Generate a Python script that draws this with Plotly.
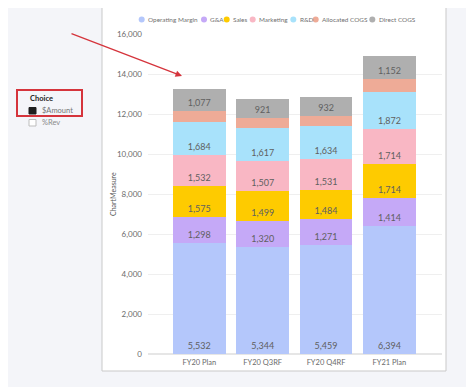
import plotly.graph_objects as go

# ---------------- data ----------------
categories = ["FY20 Plan", "FY20 Q3RF", "FY20 Q4RF", "FY21 Plan"]
operating_margin = [5532, 5344, 5459, 6394]
g_and_a = [1298, 1320, 1271, 1414]
sales = [1575, 1499, 1484, 1714]
marketing = [1532, 1507, 1531, 1714]
r_and_d = [1684, 1617, 1634, 1872]
allocated_cogs = [552, 527, 539, 620]
direct_cogs = [1077, 921, 932, 1152]

series_names = ["Operating Margin", "G&A", "Sales", "Marketing", "R&D",
                "Allocated COGS", "Direct COGS"]
series_values = [operating_margin, g_and_a, sales, marketing, r_and_d,
                 allocated_cogs, direct_cogs]
series_colors = ["#b4c7fb", "#c5a9f7", "#fecb00", "#f9b7c4", "#a8e2fb",
                 "#eeab97", "#afafaf"]
show_labels = [True, True, True, True, True, False, True]

y_ticks = [0, 2000, 4000, 6000, 8000, 10000, 12000, 14000, 16000]

# ---------------- geometry helpers (reference pixel -> paper) ----------------
OFF = 8  # page body margin
W, H = 474 - OFF, 387 - OFF
PL, PR, PT, PB = 148, 442, 34, 354  # plot area in reference pixels


def fx(px):
    return (px - PL) / (PR - PL)


def fy(py):
    return (PB - py) / (PB - PT)


FONT = "Segoe UI, Lato, sans-serif"
TXT = "#6b6b6b"

fig = go.Figure()
for name, vals, col, lab in zip(series_names, series_values, series_colors, show_labels):
    fig.add_trace(go.Bar(
        name=name, x=categories, y=vals, marker=dict(color=col, line=dict(width=0)),
        texttemplate="%{y:,.0f}" if lab else "",
        textposition="inside", insidetextanchor="start", textangle=0,
        textfont=dict(size=9, color="#606060", family=FONT),
        showlegend=False,
    ))

shapes = []
annotations = []

# outer background and card
shapes.append(dict(type="rect", xref="paper", yref="paper", layer="below",
                   x0=fx(0), x1=fx(472), y0=fy(0), y1=fy(390),
                   fillcolor="#f4f5f9", line=dict(width=0)))
shapes.append(dict(type="rect", xref="paper", yref="paper", layer="below",
                   x0=fx(102), x1=fx(446), y0=fy(7), y1=fy(371),
                   fillcolor="#ffffff", line=dict(color="#c9c9c9", width=1)))

# custom legend (circle markers)
legend_x = [141.7, 204, 226.7, 252.7, 293.3, 315.7, 372.3]
for name, col, lx in zip(series_names, series_colors, legend_x):
    shapes.append(dict(type="circle", xref="paper", yref="paper",
                       xsizemode="pixel", ysizemode="pixel",
                       xanchor=fx(lx), yanchor=fy(19.5),
                       x0=-3, x1=3, y0=-3, y1=3,
                       fillcolor=col, line=dict(width=0)))
    annotations.append(dict(text=name, xref="paper", yref="paper",
                            x=fx(lx + 4.2), y=fy(19.5), xanchor="left", yanchor="middle",
                            showarrow=False, font=dict(size=6.4, color="#707070", family=FONT)))

# y-axis title
annotations.append(dict(text="ChartMeasure", xref="paper", yref="paper",
                        x=fx(113), y=fy(194), textangle=-90, showarrow=False,
                        xanchor="center", yanchor="middle",
                        font=dict(size=7, color="#555555", family=FONT)))

# slicer "Choice"
annotations.append(dict(text="<b>Choice</b>", xref="paper", yref="paper",
                        x=fx(28), y=fy(98.5), xanchor="left", yanchor="middle",
                        showarrow=False, font=dict(size=7.5, color="#252423", family=FONT)))
shapes.append(dict(type="rect", xref="paper", yref="paper",
                   x0=fx(29), x1=fx(36), y0=fy(107.5), y1=fy(114),
                   fillcolor="#1f1f1f", line=dict(color="#1f1f1f", width=1)))
annotations.append(dict(text="$Amount", xref="paper", yref="paper",
                        x=fx(40), y=fy(110.8), xanchor="left", yanchor="middle",
                        showarrow=False, font=dict(size=7.5, color="#777777", family=FONT)))
shapes.append(dict(type="rect", xref="paper", yref="paper",
                   x0=fx(29), x1=fx(36), y0=fy(119.5), y1=fy(126),
                   fillcolor="#ffffff", line=dict(color="#bdbdbd", width=1)))
annotations.append(dict(text="%Rev", xref="paper", yref="paper",
                        x=fx(40), y=fy(122.8), xanchor="left", yanchor="middle",
                        showarrow=False, font=dict(size=7.5, color="#8a8a8a", family=FONT)))
# red highlight box
shapes.append(dict(type="rect", xref="paper", yref="paper",
                   x0=fx(17), x1=fx(82), y0=fy(90), y1=fy(116),
                   fillcolor="rgba(0,0,0,0)", line=dict(color="#d5343c", width=2)))

# red arrow
annotations.append(dict(text="", xref="paper", yref="paper",
                        x=fx(182), y=fy(76), ax=70 - 182, ay=33 - 76,
                        axref="pixel", ayref="pixel",
                        showarrow=True, arrowhead=2, arrowsize=1, arrowwidth=1.3,
                        arrowcolor="#d5343c"))

fig.update_layout(
    width=W, height=H,
    margin=dict(l=PL - OFF, r=(W + OFF) - PR, t=PT - OFF, b=(H + OFF) - PB, pad=0),
    paper_bgcolor="#ffffff", plot_bgcolor="rgba(0,0,0,0)",
    barmode="stack", bargap=0.17,
    showlegend=False,
    font=dict(family=FONT, color=TXT),
    shapes=shapes, annotations=annotations,
    xaxis=dict(type="category", range=[-0.81, 3.83], showgrid=False, showline=False,
               zeroline=False, ticks="", tickfont=dict(size=7.5, color=TXT, family=FONT),
               ticklabelstandoff=2, fixedrange=True),
    yaxis=dict(range=[0, 16000], tickvals=y_ticks, tickformat=",", showgrid=True,
               gridcolor="#efefef", gridwidth=1, zeroline=True, zerolinecolor="#e6e6e6",
               showline=False, ticks="", tickfont=dict(size=8, color=TXT, family=FONT),
               ticklabelstandoff=5, fixedrange=True),
    uniformtext=dict(minsize=6, mode="show"),
)

fig.write_html("out.html")
